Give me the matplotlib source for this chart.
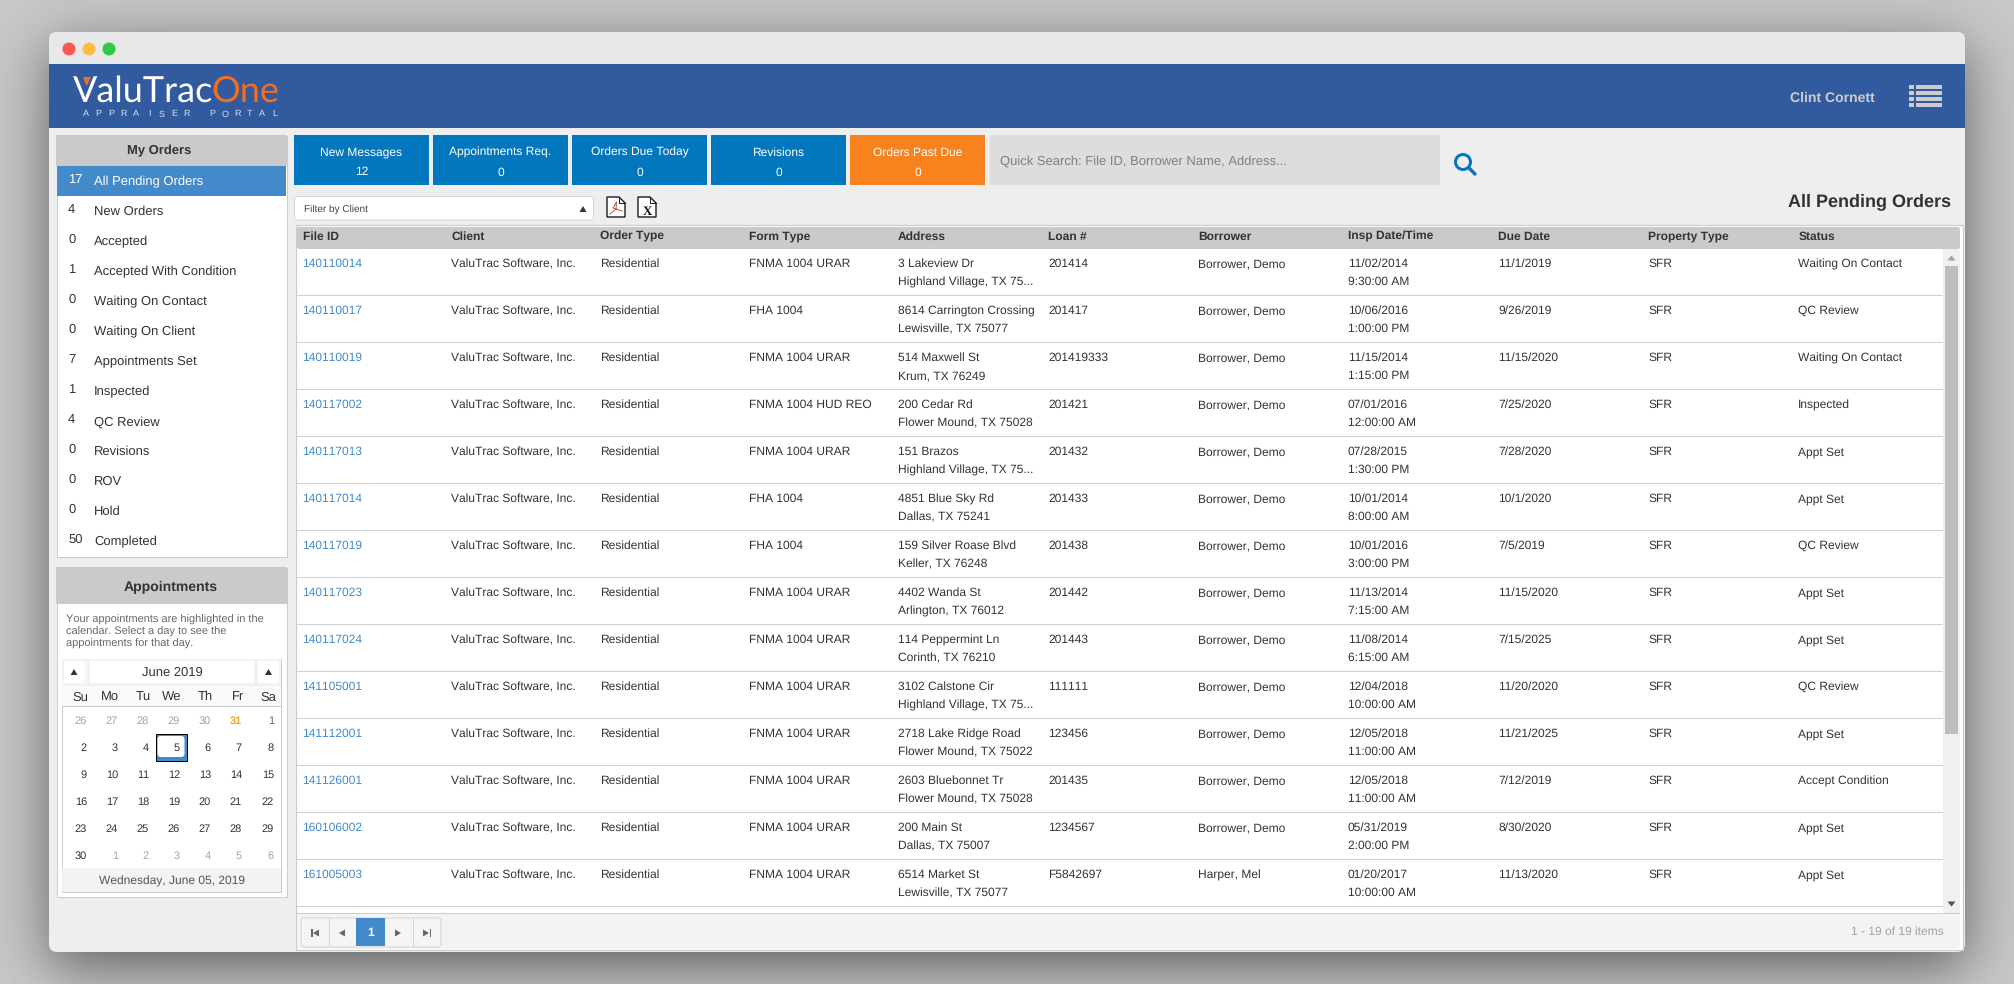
import numpy as np
import matplotlib
matplotlib.use("Agg")
import matplotlib.pyplot as plt
from matplotlib.patches import Rectangle, FancyBboxPatch, Polygon, Circle

# ---------- content ----------
side_counts = [17, 4, 0, 1, 0, 0, 7, 1, 4, 0, 0, 0, 50]
side_labels = ["All Pending Orders", "New Orders", "Accepted", "Accepted With Condition",
               "Waiting On Contact", "Waiting On Client", "Appointments Set", "Inspected",
               "QC Review", "Revisions", "ROV", "Hold", "Completed"]
tile_labels = ["New Messages", "Appointments Req.", "Orders Due Today", "Revisions", "Orders Past Due"]
tile_values = [12, 0, 0, 0, 0]
columns = ["File ID", "Client", "Order Type", "Form Type", "Address", "Loan #", "Borrower",
           "Insp Date/Time", "Due Date", "Property Type", "Status"]
file_ids = ["140110014", "140110017", "140110019", "140117002", "140117013", "140117014", "140117019",
            "140117023", "140117024", "141105001", "141112001", "141126001", "160106002", "161005003"]
clients = ["ValuTrac Software, Inc."] * 14
order_types = ["Residential"] * 14
form_types = ["FNMA 1004 URAR", "FHA 1004", "FNMA 1004 URAR", "FNMA 1004 HUD REO", "FNMA 1004 URAR",
              "FHA 1004", "FHA 1004", "FNMA 1004 URAR", "FNMA 1004 URAR", "FNMA 1004 URAR",
              "FNMA 1004 URAR", "FNMA 1004 URAR", "FNMA 1004 URAR", "FNMA 1004 URAR"]
street = ["3 Lakeview Dr", "8614 Carrington Crossing", "514 Maxwell St", "200 Cedar Rd", "151 Brazos",
          "4851 Blue Sky Rd", "159 Silver Roase Blvd", "4402 Wanda St", "114 Peppermint Ln",
          "3102 Calstone Cir", "2718 Lake Ridge Road", "2603 Bluebonnet Tr", "200 Main St", "6514 Market St"]
city = ["Highland Village, TX 75...", "Lewisville, TX 75077", "Krum, TX 76249", "Flower Mound, TX 75028",
        "Highland Village, TX 75...", "Dallas, TX 75241", "Keller, TX 76248", "Arlington, TX 76012",
        "Corinth, TX 76210", "Highland Village, TX 75...", "Flower Mound, TX 75022",
        "Flower Mound, TX 75028", "Dallas, TX 75007", "Lewisville, TX 75077"]
loans = ["201414", "201417", "201419333", "201421", "201432", "201433", "201438", "201442", "201443",
         "111111", "123456", "201435", "1234567", "F5842697"]
borrowers = ["Borrower, Demo"] * 13 + ["Harper, Mel"]
insp_dates = ["11/02/2014", "10/06/2016", "11/15/2014", "07/01/2016", "07/28/2015", "10/01/2014", "10/01/2016",
              "11/13/2014", "11/08/2014", "12/04/2018", "12/05/2018", "12/05/2018", "05/31/2019", "01/20/2017"]
insp_times = ["9:30:00 AM", "1:00:00 PM", "1:15:00 PM", "12:00:00 AM", "1:30:00 PM", "8:00:00 AM", "3:00:00 PM",
              "7:15:00 AM", "6:15:00 AM", "10:00:00 AM", "11:00:00 AM", "11:00:00 AM", "2:00:00 PM", "10:00:00 AM"]
due_dates = ["11/1/2019", "9/26/2019", "11/15/2020", "7/25/2020", "7/28/2020", "10/1/2020", "7/5/2019",
             "11/15/2020", "7/15/2025", "11/20/2020", "11/21/2025", "7/12/2019", "8/30/2020", "11/13/2020"]
prop_types = ["SFR"] * 14
statuses = ["Waiting On Contact", "QC Review", "Waiting On Contact", "Inspected", "Appt Set", "Appt Set",
            "QC Review", "Appt Set", "Appt Set", "QC Review", "Appt Set", "Accept Condition", "Appt Set", "Appt Set"]
week_days = ["Su", "Mo", "Tu", "We", "Th", "Fr", "Sa"]
cal_days = [26, 27, 28, 29, 30, 31, 1,
            2, 3, 4, 5, 6, 7, 8,
            9, 10, 11, 12, 13, 14, 15,
            16, 17, 18, 19, 20, 21, 22,
            23, 24, 25, 26, 27, 28, 29,
            30, 1, 2, 3, 4, 5, 6]
appt_note = ["Your appointments are highlighted in the", "calendar. Select a day to see the",
             "appointments for that day."]

# ---------- canvas ----------
W, H = 2014, 984
plt.rcParams["font.family"] = ["Liberation Sans", "DejaVu Sans"]
plt.rcParams["text.hinting"] = "none"
plt.rcParams["text.hinting_factor"] = 1
fig = plt.figure(figsize=(W / 100, H / 100), dpi=100)
ax = fig.add_axes([0, 0, 1, 1])
ax.set_xlim(0, W); ax.set_ylim(H, 0); ax.axis("off")

BLUE_NAV, BLUE_TILE, BLUE_SEL = "#325a9e", "#0377bd", "#428aca"
ORANGE, LINE, HEAD, INK = "#f7821e", "#cccccc", "#cacaca", "#333333"


def box_profile(v, a, b, s):
    """Smooth edge profile of a blurred box along one axis."""
    def phi(t):
        return 1 / (1 + np.exp(-1.7 * t))
    return phi((v - a) / s) - phi((v - b) / s)


yy, xx = np.mgrid[0:H, 0:W]
shadow = box_profile(xx, 49, 1965, 30) * box_profile(yy, 47, 967, 30)
bg = 200 * (1 - 0.53 * shadow)
ax.imshow(bg, cmap="gray", vmin=0, vmax=255, extent=(0, W, H, 0), aspect="auto", zorder=0, interpolation="nearest")
ax.set_xlim(0, W); ax.set_ylim(H, 0)


def R(x0, y0, x1, y1, fc, ec="none", lw=0, z=2):
    p = Rectangle((x0, y0), x1 - x0, y1 - y0, facecolor=fc, edgecolor=ec, linewidth=lw * 0.72, zorder=z)
    ax.add_patch(p)
    return p


def RR(x0, y0, x1, y1, r, fc, ec="none", lw=0, z=2):
    p = FancyBboxPatch((x0, y0), x1 - x0, y1 - y0, boxstyle=f"round,pad=0,rounding_size={r}",
                       facecolor=fc, edgecolor=ec, linewidth=lw * 0.72, zorder=z)
    ax.add_patch(p)
    return p


def T(x, y, s, size=12, color=INK, ha="left", weight="normal", family=None, z=5):
    """y is the vertical centre of the capitals; size in pixels."""
    kw = {"family": family} if family else {}
    return ax.text(x, y + 0.36 * size, s, fontsize=size * 0.72, color=color, ha=ha, va="baseline",
                   fontweight=weight, zorder=z, **kw)


def tri(cx, cy, w, h, d, color, z=5):
    if d == "up":
        pts = [(cx - w / 2, cy + h / 2), (cx + w / 2, cy + h / 2), (cx, cy - h / 2)]
    elif d == "down":
        pts = [(cx - w / 2, cy - h / 2), (cx + w / 2, cy - h / 2), (cx, cy + h / 2)]
    elif d == "left":
        pts = [(cx + w / 2, cy - h / 2), (cx + w / 2, cy + h / 2), (cx - w / 2, cy)]
    else:
        pts = [(cx - w / 2, cy - h / 2), (cx - w / 2, cy + h / 2), (cx + w / 2, cy)]
    ax.add_patch(Polygon(pts, closed=True, facecolor=color, edgecolor="none", zorder=z))


# ---------- window ----------
win = RR(49, 32, 1965, 952, 8, "#eeeeee", z=1)
R(49, 32, 1965, 64, "#e8e8e8", z=1.5).set_clip_path(win)
R(49, 64, 1965, 128, BLUE_NAV, z=1.5)
for cx, col in zip((69, 89, 109), ("#fc5753", "#fdbc40", "#33c748")):
    ax.add_patch(Circle((cx, 49), 6.5, facecolor=col, edgecolor="none", zorder=3))

# logo
ax.text(73, 102, "ValuTrac", fontsize=26, family="Lato", color="white", va="baseline", zorder=5)
ax.text(211, 102, "One", fontsize=26, family="Lato", color="#f26f21", va="baseline", zorder=5)
ax.add_patch(Polygon([(83, 77), (91, 77), (86.5, 86)], closed=True, facecolor="#f26f21", edgecolor="none", zorder=6))
tag = "APPRAISER PORTAL"
for i, ch in enumerate(tag):
    T(86 + i * 12.6, 113, ch, 9.5, "#d8dfec", ha="center")

# user
T(1832, 97, "Clint Cornett", 14, "#cccccc", ha="center", weight="bold")
for yb in (85, 91, 97, 103):
    R(1909, yb, 1914, yb + 4, "#cccccc", z=3)
    R(1916, yb, 1942, yb + 4, "#cccccc", z=3)

# ---------- My Orders ----------
R(56.5, 135.5, 286.5, 556.5, "white", LINE, 1)
R(56, 135, 287, 166, HEAD, z=3)
T(159, 150, "My Orders", 13.3, INK, ha="center", weight="bold")
R(57, 166, 286, 196, BLUE_SEL, z=3)
for i, (c, lab) in enumerate(zip(side_counts, side_labels)):
    col = "white" if i == 0 else INK
    T(68, 178 + 30 * i, str(c), 13, col)
    T(94, 180.5 + 30 * i, lab, 13, col)

# ---------- Appointments ----------
R(56.5, 567.5, 286.5, 896.5, "white", LINE, 1)
R(56, 567, 287, 604, HEAD, z=3)
T(171, 586, "Appointments", 14.3, INK, ha="center", weight="bold")
for i, line in enumerate(appt_note):
    T(66, 619 + 12 * i, line, 11.4, "#666666")
R(61.5, 658.5, 281, 892, "white", LINE, 1, z=3)
R(62, 659, 281, 686, "#f3f3f3", z=3)
RR(64, 661, 85, 683, 2, "white", z=3.5)
RR(90, 661, 254, 683, 2, "white", z=3.5)
RR(258, 661, 279, 683, 2, "white", z=3.5)
tri(74, 672, 7, 6, "up", INK)
tri(268.5, 672, 7, 6, "up", INK)
T(172, 671, "June 2019", 12.5, INK, ha="center")
R(62, 686, 281, 706, "#fafafa", z=3)
day_centers = [80, 110, 143, 172, 205, 238, 268]
for c, d in zip(day_centers, week_days):
    T(c, 696, d, 12.5, INK, ha="center")
R(62, 706, 281, 707, LINE, z=3.2)
col_right = [87, 118, 149, 180, 211, 242, 274]
R(155.5, 733.5, 186.5, 760.5, BLUE_SEL, "black", 1, z=3.5)
RR(157.5, 736, 184.5, 757, 3, "white", z=3.6)
for idx, dnum in enumerate(cal_days):
    r_i, c_i = divmod(idx, 7)
    y = 720 + 27 * r_i
    other = idx < 5 or idx >= 36
    if idx == 5:
        T(col_right[c_i], y, str(dnum), 11.5, "#f5a623", ha="right", weight="bold")
    elif other:
        T(col_right[c_i], y, str(dnum), 11.5, "#a3a3a3", ha="right")
    elif idx == 6:
        T(col_right[c_i], y, str(dnum), 11.5, "#666666", ha="right")
    else:
        T(col_right[c_i], y, str(dnum), 11.5, INK, ha="right")
R(62, 868, 281, 892, "#f3f3f3", z=3)
T(172, 880, "Wednesday, June 05, 2019", 12, "#555555", ha="center")

# ---------- tiles ----------
tile_x = [294, 433, 572, 711, 850]
for x, lab, val, i in zip(tile_x, tile_labels, tile_values, range(5)):
    R(x, 135, x + 135, 185, ORANGE if i == 4 else BLUE_TILE)
    T(x + 67.5, 151, lab, 12.2, "white", ha="center")
    T(x + 67.5, 171, str(val), 12.2, "white", ha="center")
R(990, 135, 1440, 185, "#dddddd")
T(1000, 160, "Quick Search: File ID, Borrower Name, Address...", 13, "#808080")
ax.add_patch(Circle((1463, 162), 7.5, facecolor="none", edgecolor=BLUE_TILE, linewidth=3 * 0.72, zorder=4))
ax.plot([1468.5, 1475], [167.5, 174], color=BLUE_TILE, lw=3.4 * 0.72, zorder=4, solid_capstyle="round")

# ---------- filter and icons ----------
RR(294.5, 196.5, 593.5, 220, 3, "white", "#d5d5d5", 1)
T(304, 208, "Filter by Client", 10.3, "#444444")
tri(583, 209, 7, 6, "up", INK)
for x0, x1 in ((607, 625), (638, 656)):
    ax.add_patch(Polygon([(x0, 197), (x1 - 6, 197), (x1, 203), (x1, 217), (x0, 217)], closed=True,
                         facecolor="white", edgecolor="#1a1a2a", linewidth=1.4 * 0.72, zorder=4))
    ax.plot([x1 - 6, x1 - 6, x1], [197, 203, 203], color="#1a1a2a", lw=1 * 0.72, zorder=4)
ax.plot([610, 616, 616.5, 613, 622], [214, 209, 202, 208, 211], color="#b5564a", lw=1 * 0.72, zorder=5)
T(647, 210.5, "X", 13, "#111111", ha="center", weight="bold", family="Liberation Serif")
T(1951, 200, "All Pending Orders", 18.4, INK, ha="right", weight="bold")

# ---------- grid ----------
R(295.5, 224.5, 1963, 949.5, "white", LINE, 1.2, z=2)
RR(297, 227, 1960, 249, 2, HEAD, z=3)
col_x = [303, 451, 600, 749, 898, 1048, 1198, 1348, 1498, 1648, 1799]
for x, c in zip(col_x, columns):
    T(x, 235.5, c, 11.8, INK, weight="bold")
R(1943, 249, 1960, 913, "#f0f0f0", z=3)
R(1945, 266, 1958, 734, "#bdbdbd", z=3.2)
tri(1951.5, 258, 8, 5, "up", "#a0a0a0")
tri(1951.5, 904, 8, 5, "down", "#505050")
for i in range(14):
    y1 = 262.7 + 47 * i
    y2 = y1 + 18
    R(297, 295 + 47 * i, 1943, 296 + 47 * i, "#d0d0d0", z=3)
    T(col_x[0] - 0.5, y1, file_ids[i], 12, BLUE_SEL)
    T(col_x[1], y1, clients[i], 12)
    T(col_x[2], y1, order_types[i], 12)
    T(col_x[3], y1, form_types[i], 12)
    T(col_x[4], y1, street[i], 12)
    T(col_x[4], y2, city[i], 12)
    T(col_x[5], y1, loans[i], 12)
    T(col_x[6], y1, borrowers[i], 12)
    T(col_x[7], y1, insp_dates[i], 12)
    T(col_x[7], y2, insp_times[i], 12)
    T(col_x[8], y1, due_dates[i], 12)
    T(col_x[9], y1, prop_types[i], 12)
    T(col_x[10] - 1, y1, statuses[i], 12)

# ---------- footer ----------
R(297, 913, 1960, 949, "#f3f3f3", z=3)
R(297, 913, 1960, 914, LINE, z=3.2)
RR(301, 918, 441, 947, 3, "#f5f5f5", "#d5d5d5", 1, z=3.4)
for xs in (329, 413):
    R(xs, 918, xs + 1, 947, "#d5d5d5", z=3.5)
R(356, 918, 385, 946, BLUE_SEL, z=3.5)
T(370.5, 932, "1", 12, "white", ha="center", weight="bold")
tri(316, 933, 6, 7, "left", "#666666")
R(311, 929, 312.5, 937, "#666666", z=5)
tri(342, 933, 6, 7, "left", "#666666")
tri(398, 933, 6, 7, "right", "#666666")
tri(426, 933, 6, 7, "right", "#666666")
R(429.5, 929, 431, 937, "#666666", z=5)
T(1944, 931, "1 - 19 of 19 items", 12, "#a0a0a0", ha="right")

fig.savefig("out.png", dpi=100)
